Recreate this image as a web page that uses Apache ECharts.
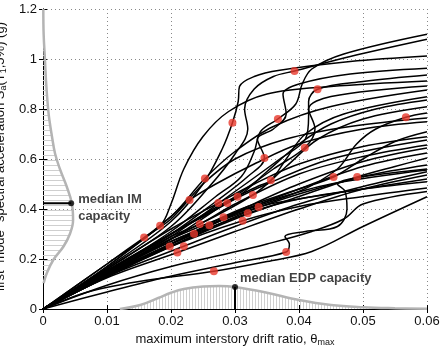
<!DOCTYPE html>
<html>
<head>
<meta charset="utf-8">
<script src="https://cdn.jsdelivr.net/npm/echarts@6/dist/echarts.min.js"></script>
<style>
  html, body { margin: 0; padding: 0; background: #fff; }
  #chart { width: 440px; height: 350px; }
</style>
</head>
<body>
<div id="chart"></div>
<script>
// axis ranges
const driftTicks = [0, 0.01, 0.02, 0.03, 0.04, 0.05, 0.06];
const saTicks = [0, 0.2, 0.4, 0.6, 0.8, 1, 1.2];

// IDA curves, [drift, Sa] pairs
const idaCurves = [
  [[0,0],[0.01,0.16],[0.02,0.33],[0.026,0.49],[0.03,0.62],[0.032,0.72],[0.0315,0.8],[0.033,0.88],[0.036,0.93],[0.0393,0.952],[0.048,1.01],[0.06,1.079]],
  [[0,0],[0.01,0.145],[0.02,0.29],[0.03,0.47],[0.037,0.6],[0.041,0.68],[0.0415,0.77],[0.0415,0.83],[0.0429,0.879],[0.05,0.91],[0.06,0.936]],
  [[0,0],[0.01,0.165],[0.02,0.35],[0.025,0.5],[0.028,0.64],[0.0296,0.745],[0.0305,0.83],[0.0307,0.89],[0.033,0.93],[0.037,0.955],[0.048,0.99],[0.06,1.012]],
  [[0,0],[0.01,0.15],[0.02,0.31],[0.027,0.45],[0.031,0.53],[0.033,0.63],[0.034,0.71],[0.0367,0.76],[0.0395,0.82],[0.0405,0.9],[0.042,0.96],[0.047,1.02],[0.06,1.099]],
  [[0,0],[0.01,0.13],[0.02,0.26],[0.03,0.38],[0.04,0.47],[0.046,0.56],[0.049,0.66],[0.052,0.72],[0.0567,0.767],[0.06,0.784]],
  [[0,0],[0.01,0.14],[0.02,0.28],[0.03,0.45],[0.036,0.56],[0.0409,0.645],[0.0425,0.72],[0.0415,0.8],[0.045,0.85],[0.06,0.892]],
  [[0,0],[0.01,0.15],[0.02,0.3],[0.027,0.43],[0.032,0.53],[0.0346,0.604],[0.0335,0.68],[0.036,0.72],[0.038,0.78],[0.0375,0.86],[0.04,0.9],[0.048,0.94],[0.06,0.963]],
  [[0,0],[0.01,0.15],[0.02,0.3],[0.028,0.42],[0.0335,0.49],[0.0356,0.515],[0.038,0.6],[0.041,0.7],[0.047,0.78],[0.06,0.849]],
  [[0,0],[0.01,0.13],[0.02,0.26],[0.03,0.39],[0.04,0.48],[0.0454,0.528],[0.05,0.6],[0.055,0.67],[0.06,0.709]],
  [[0,0],[0.01,0.13],[0.02,0.25],[0.03,0.36],[0.04,0.45],[0.0491,0.528],[0.055,0.57],[0.06,0.604]],
  [[0,0],[0.01,0.155],[0.02,0.3],[0.0304,0.449],[0.035,0.55],[0.04,0.66],[0.045,0.74],[0.052,0.8],[0.06,0.836]],
  [[0,0],[0.01,0.14],[0.02,0.28],[0.0328,0.456],[0.038,0.57],[0.043,0.68],[0.05,0.76],[0.06,0.809]],
  [[0,0],[0.01,0.18],[0.0158,0.286],[0.02,0.36],[0.025,0.5],[0.03,0.6],[0.038,0.68],[0.048,0.73],[0.06,0.764]],
  [[0,0],[0.01,0.18],[0.0183,0.333],[0.02,0.42],[0.022,0.56],[0.025,0.69],[0.029,0.79],[0.035,0.86],[0.045,0.89],[0.06,0.912]],
  [[0,0],[0.01,0.17],[0.02,0.37],[0.0253,0.522],[0.03,0.63],[0.036,0.73],[0.045,0.81],[0.06,0.876]],
  [[0,0],[0.01,0.17],[0.02,0.37],[0.0229,0.436],[0.027,0.5],[0.033,0.58],[0.04,0.66],[0.05,0.72],[0.06,0.749]],
  [[0,0],[0.01,0.16],[0.02,0.32],[0.0274,0.424],[0.033,0.5],[0.04,0.58],[0.05,0.65],[0.06,0.689]],
  [[0,0],[0.01,0.15],[0.02,0.29],[0.0245,0.34],[0.03,0.42],[0.04,0.54],[0.05,0.61],[0.06,0.656]],
  [[0,0],[0.01,0.145],[0.02,0.27],[0.026,0.335],[0.032,0.41],[0.04,0.5],[0.05,0.59],[0.06,0.644]],
  [[0,0],[0.01,0.14],[0.02,0.26],[0.0236,0.301],[0.03,0.38],[0.04,0.48],[0.05,0.57],[0.06,0.624]],
  [[0,0],[0.01,0.14],[0.0198,0.25],[0.025,0.31],[0.032,0.39],[0.04,0.46],[0.05,0.53],[0.06,0.576]],
  [[0,0],[0.01,0.13],[0.022,0.251],[0.03,0.33],[0.04,0.42],[0.05,0.49],[0.06,0.549]],
  [[0,0],[0.01,0.125],[0.021,0.226],[0.03,0.31],[0.04,0.4],[0.05,0.48],[0.06,0.536]],
  [[0,0],[0.01,0.15],[0.02,0.3],[0.0288,0.424],[0.035,0.5],[0.045,0.6],[0.06,0.676]],
  [[0,0],[0.01,0.145],[0.02,0.28],[0.0282,0.367],[0.035,0.43],[0.045,0.5],[0.06,0.556]],
  [[0,0],[0.01,0.135],[0.02,0.26],[0.032,0.383],[0.04,0.44],[0.05,0.48],[0.06,0.509]],
  [[0,0],[0.01,0.13],[0.02,0.25],[0.0312,0.353],[0.04,0.41],[0.05,0.45],[0.06,0.484]],
  [[0,0],[0.01,0.14],[0.02,0.27],[0.0337,0.408],[0.04,0.44],[0.05,0.48],[0.06,0.52]],
  [[0,0],[0.007,0.068],[0.015,0.11],[0.0267,0.151],[0.035,0.19],[0.042,0.23],[0.05,0.33],[0.06,0.449]],
  [[0,0],[0.01,0.068],[0.0194,0.128],[0.03,0.185],[0.038,0.228],[0.0385,0.26],[0.0378,0.29],[0.041,0.31],[0.046,0.33],[0.0475,0.4],[0.0472,0.47],[0.046,0.5],[0.048,0.52],[0.053,0.54],[0.06,0.56]],
  [[0,0],[0.01,0.095],[0.02,0.17],[0.0277,0.215],[0.035,0.26],[0.042,0.31],[0.047,0.36],[0.05,0.42],[0.06,0.47]]
];

// capacity points (red dots)
const capacityPoints = [
  [0.0393,0.952],[0.0429,0.879],[0.0296,0.745],[0.0367,0.76],[0.0567,0.767],
  [0.0409,0.645],[0.0346,0.604],[0.0356,0.515],[0.0454,0.528],[0.0491,0.528],
  [0.0304,0.449],[0.0328,0.456],[0.0158,0.286],[0.0183,0.333],[0.0253,0.522],
  [0.0229,0.436],[0.0274,0.424],[0.0245,0.34],[0.026,0.335],[0.0236,0.301],
  [0.0198,0.25],[0.022,0.251],[0.021,0.226],[0.0288,0.424],[0.0282,0.367],
  [0.032,0.383],[0.0312,0.353],[0.0337,0.408],[0.0267,0.151],[0.038,0.228]
];

// IM capacity distribution (drawn sideways along the Sa axis)
const imLevels = [0.103, 0.144, 0.196, 0.25, 0.3, 0.356, 0.423, 0.49, 0.556, 0.62, 0.69, 0.756, 0.8, 0.9, 1.0, 1.1, 1.2];
const imWidth = [0.0001, 0.0006, 0.0016, 0.0032, 0.0042, 0.0047, 0.0045, 0.0037, 0.0027, 0.0019, 0.0014, 0.001, 0.0008, 0.0005, 0.0003, 0.0001, 0.00005];
const medianIM = [0.0044, 0.423];

// EDP capacity distribution (along the drift axis)
const edpDrift = [0.012, 0.0152, 0.018, 0.02, 0.022, 0.025, 0.0275, 0.03, 0.035, 0.04, 0.045, 0.05, 0.055, 0.06];
const edpHeight = [0, 0.016, 0.044, 0.065, 0.08, 0.09, 0.092, 0.088, 0.065, 0.036, 0.016, 0.007, 0.003, 0.001];
const medianEDP = [0.03, 0.088];

function hatch(w, h, vertical) {
  const c = document.createElement("canvas");
  c.width = w;
  c.height = h;
  const g = c.getContext("2d");
  g.fillStyle = "#cfcfcf";
  if (vertical) g.fillRect(0, 0, 1, h);
  else g.fillRect(0, 0, w, 1);
  return c;
}

const chart = echarts.init(document.getElementById("chart"));
const font = "Liberation Sans";
const gray = "#b4b4b4";

const series = [];

// IM pdf hatched area
series.push({
  type: "custom",
  data: [[0, 0]],
  silent: true,
  z: 1,
  renderItem: function (params, api) {
    const pts = imLevels.map((y, i) => api.coord([imWidth[i], y]));
    pts.push(api.coord([0, imLevels[imLevels.length - 1]]));
    pts.push(api.coord([0, imLevels[0]]));
    return {
      type: "polygon",
      shape: { points: pts },
      style: { fill: { image: hatch(6, 5, false), repeat: "repeat" }, stroke: null },
    };
  },
});
series.push({
  type: "line",
  data: imLevels.map((y, i) => [imWidth[i], y]),
  smooth: 0.4,
  showSymbol: false,
  silent: true,
  z: 2,
  lineStyle: { color: gray, width: 2.5 },
});

// EDP pdf hatched area
series.push({
  type: "line",
  data: edpDrift.map((x, i) => [x, edpHeight[i]]),
  smooth: 0.4,
  showSymbol: false,
  silent: true,
  z: 2,
  lineStyle: { color: gray, width: 2.5 },
  areaStyle: { color: { image: hatch(3, 6, true), repeat: "repeat" }, opacity: 1 },
});

// IDA curves
idaCurves.forEach((c) => {
  series.push({
    type: "line",
    data: c,
    smooth: 0.35,
    showSymbol: false,
    silent: true,
    z: 3,
    lineStyle: { color: "#000", width: 1.5 },
  });
});

// capacity dots
series.push({
  type: "scatter",
  data: capacityPoints,
  symbolSize: 8,
  z: 5,
  itemStyle: { color: "#e8382c" },
});

// median markers
series.push({
  type: "line",
  data: [[0, medianIM[1]], medianIM],
  showSymbol: false,
  z: 4,
  lineStyle: { color: "#000", width: 2 },
});
series.push({
  type: "line",
  data: [[medianEDP[0], 0], medianEDP],
  showSymbol: false,
  z: 4,
  lineStyle: { color: "#000", width: 2 },
});
series.push({
  type: "scatter",
  symbolSize: 6,
  z: 6,
  itemStyle: { color: "#000" },
  data: [
    {
      value: medianIM,
      label: {
        show: true,
        position: "right",
        distance: 4,
        offset: [0, 5],
        formatter: "median IM\ncapacity",
        fontFamily: font,
        fontWeight: "bold",
        fontSize: 13,
        lineHeight: 17,
        color: "#111",
      },
    },
    {
      value: medianEDP,
      label: {
        show: true,
        position: "right",
        distance: 2,
        offset: [0, -9],
        formatter: "median EDP capacity",
        fontFamily: font,
        fontWeight: "bold",
        fontSize: 13,
        color: "#111",
      },
    },
  ],
});

const tickLabel = { fontFamily: font, fontSize: 13, color: "#111" };
const split = { show: true, lineStyle: { color: "#888", type: [1, 3], width: 1 } };

chart.setOption({
  animation: false,
  backgroundColor: "#fff",
  textStyle: { fontFamily: font },
  grid: { left: 43, right: 13, top: 9, bottom: 41, containLabel: false, outerBoundsMode: "none" },
  xAxis: [
    {
      type: "value",
      min: driftTicks[0],
      max: driftTicks[driftTicks.length - 1],
      interval: 0.01,
      position: "bottom",
      axisLine: { lineStyle: { color: "#000", width: 1 } },
      axisTick: { inside: true, length: 4, lineStyle: { color: "#000" } },
      axisLabel: Object.assign({ margin: 6, formatter: (v) => (v === 0 ? "0" : v.toFixed(2)) }, tickLabel),
      splitLine: split,
      name: "maximum interstory drift ratio, \u03b8{s|max}",
      nameLocation: "middle",
      nameGap: 21,
      nameTextStyle: {
        fontFamily: font,
        fontSize: 13,
        color: "#111",
        rich: { s: { fontFamily: font, fontSize: 9, color: "#111", padding: [6, 0, 0, 0] } },
      },
    },
    {
      type: "value",
      min: driftTicks[0],
      max: driftTicks[driftTicks.length - 1],
      interval: 0.01,
      position: "top",
      axisLine: { lineStyle: { color: "#000", width: 1 } },
      axisTick: { inside: true, length: 4, lineStyle: { color: "#000" } },
      axisLabel: { show: false },
      splitLine: { show: false },
    },
  ],
  yAxis: [
    {
      type: "value",
      min: saTicks[0],
      max: saTicks[saTicks.length - 1],
      interval: 0.2,
      position: "left",
      axisLine: { show: true, lineStyle: { color: "#000", width: 1 } },
      axisTick: { show: true, inside: true, length: 4, lineStyle: { color: "#000" } },
      axisLabel: Object.assign({ margin: 6 }, tickLabel),
      splitLine: split,
      name: "\"first\u2212mode\" spectral acceleration S{s|a}(T{s|1},5%) (g)",
      nameLocation: "middle",
      nameGap: 25,
      nameTextStyle: {
        fontFamily: font,
        fontSize: 13,
        color: "#111",
        rich: { s: { fontFamily: font, fontSize: 9, color: "#111", padding: [6, 0, 0, 0] } },
      },
    },
    {
      type: "value",
      min: saTicks[0],
      max: saTicks[saTicks.length - 1],
      interval: 0.2,
      position: "right",
      axisLine: { show: true, lineStyle: { color: "#000", width: 1 } },
      axisTick: { show: true, inside: true, length: 4, lineStyle: { color: "#000" } },
      axisLabel: { show: false },
      splitLine: { show: false },
    },
  ],
  series: series,
});
</script>
</body>
</html>
